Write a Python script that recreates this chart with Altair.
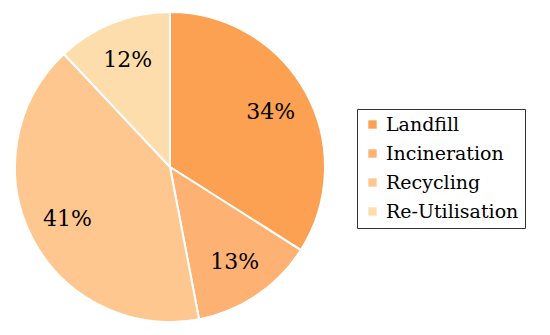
import altair as alt
import pandas as pd

categories = ["Landfill", "Incineration", "Recycling", "Re-Utilisation"]
values = [34, 13, 41, 12]
labels = ["34%", "13%", "41%", "12%"]
colors = ["#FCA152", "#FDB172", "#FEC78F", "#FEDDAC"]

FONT = "DejaVu Serif"

df = pd.DataFrame({"cat": categories, "val": values, "label": labels, "order": list(range(len(categories)))})

color = alt.Color("cat:N", scale=alt.Scale(domain=categories, range=colors),
                  sort=categories,
                  legend=alt.Legend(title=None, orient="none", legendX=349, legendY=99,
                                    symbolType="square", symbolSize=70, symbolStrokeWidth=0,
                                    labelFont=FONT, labelFontSize=19, labelColor="black",
                                    strokeColor="#333333", padding=6, rowPadding=9, symbolOffset=0,
                                    labelOffset=4, fillColor="white", labelLimit=300))

base = alt.Chart(df).encode(
    theta=alt.Theta("val:Q", stack=True),
    order=alt.Order("order:Q"),
)

pie = base.mark_arc(outerRadius=155, stroke="white", strokeWidth=2).encode(color=color)
text = base.mark_text(radius=115, font=FONT, fontSize=22, color="black").encode(text="label:N")

chart = (pie + text).properties(width=324, height=314, padding=0).configure_view(stroke=None)
chart.save("out.html", embed_options={"renderer": "svg", "actions": False})
